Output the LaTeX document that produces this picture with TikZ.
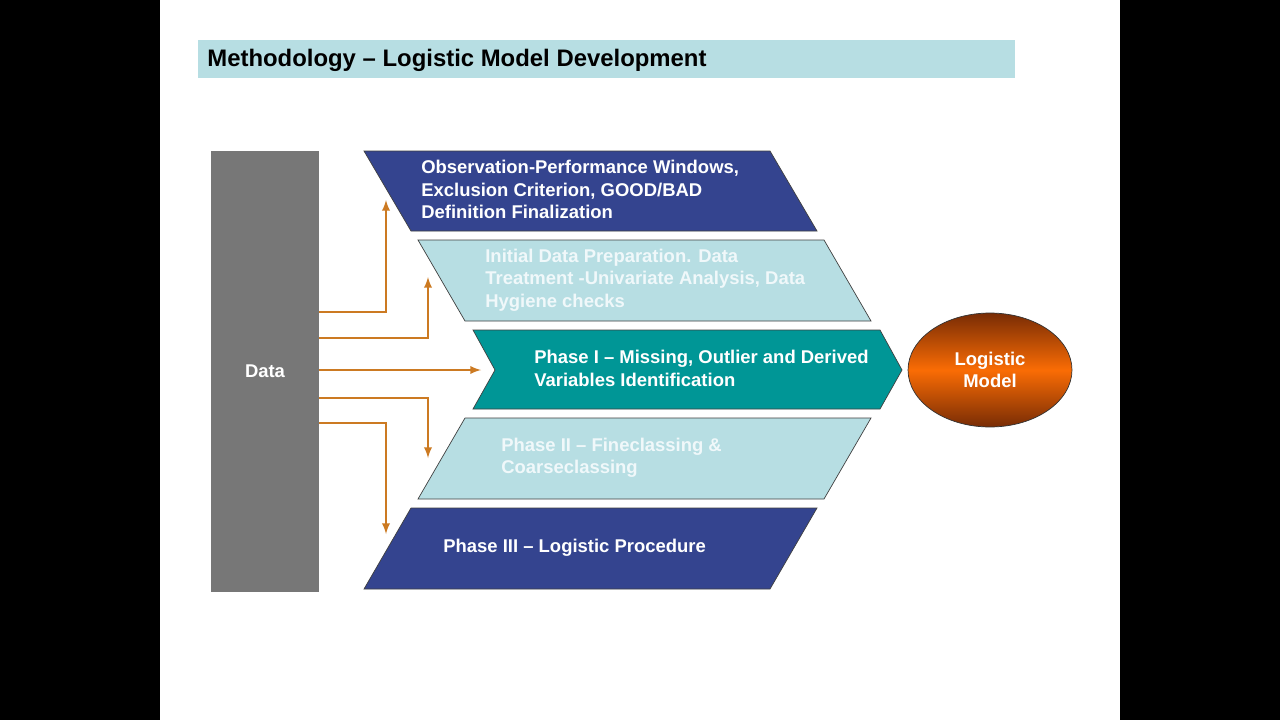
\documentclass[tikz,border=0pt]{standalone}
\usepackage{fontspec}
\setmainfont{Liberation Sans}
\usetikzlibrary{shapes.geometric}
\definecolor{titlebg}{RGB}{183,222,227}
\definecolor{navy}{RGB}{52,68,143}
\definecolor{pale}{RGB}{183,222,227}
\definecolor{tealc}{RGB}{0,150,150}
\definecolor{grayc}{RGB}{119,119,119}
\definecolor{arrc}{RGB}{204,122,34}
\definecolor{paletext}{RGB}{240,248,250}
\definecolor{darkor}{RGB}{120,44,5}
\definecolor{brightor}{RGB}{250,108,5}
\begin{document}
\begin{tikzpicture}[x=0.02cm,y=-0.02cm,
  bf/.style={font=\bfseries\fontsize{10.5}{12.8}\selectfont},
  txt/.style={bf,text=white,align=left,inner sep=0pt,anchor=west},
  arr/.style={->,>=latex,draw=arrc,line width=1.1pt},
  box/.style={draw=black!75,line width=0.4pt}]
\useasboundingbox (0,0) rectangle (1280,720);
\fill[black] (0,0) rectangle (160,720);
\fill[black] (1120,0) rectangle (1280,720);
\fill[white] (160,0) rectangle (1120,720);
%%%% title
\fill[titlebg] (198,40) rectangle (1015,78);
\node[font=\bfseries\fontsize{13.6}{16}\selectfont,inner sep=0pt,anchor=west] (title) at (207,60) {Methodology -- Logistic Model Development};
%%%% phases
\filldraw[box,fill=navy] (364,151) -- (770,151) -- (817,231) -- (411,231) -- cycle;
\filldraw[box,fill=pale] (418,240) -- (824,240) -- (871,321) -- (465,321) -- cycle;
\filldraw[box,fill=tealc] (473,330) -- (880,330) -- (902,370) -- (880,409) -- (473,409) -- (495,370) -- cycle;
\filldraw[box,fill=pale] (465,418) -- (871,418) -- (824,499) -- (418,499) -- cycle;
\filldraw[box,fill=navy] (411,508) -- (817,508) -- (770,589) -- (364,589) -- cycle;
%
\node[txt] (obs) at (421,189.5) {Observation-Performance Windows,\\Exclusion Criterion, GOOD/BAD\\Definition Finalization};
\node[txt,text=paletext] (prep) at (485,280) {Initial Data Preparation. Data\\Treatment -Univariate Analysis, Data\\Hygiene checks};
\node[txt] (ph1) at (534,368.5) {Phase I -- Missing, Outlier and Derived\\Variables Identification};
\node[txt,text=paletext] (ph2) at (501,458) {Phase II -- Fineclassing \&\\Coarseclassing};
\node[txt] (ph3) at (443,548) {Phase III -- Logistic Procedure};
%%%% data and model
\node[bf,text=white,fill=grayc,minimum width=2.16cm,minimum height=8.82cm] (data) at (265,371.5) {Data};
\node[bf,text=white,align=center,ellipse,draw=black!80,minimum width=3.28cm,minimum height=2.28cm,
  top color=darkor,bottom color=darkor,middle color=brightor] (model) at (990,370) {Logistic\\Model};
%%%% arrows
\coordinate (e1) at (386,200);
\coordinate (e2) at (428,277);
\coordinate (e3) at (481,370);
\coordinate (e4) at (428,458);
\coordinate (e5) at (386,534);
\draw[arr] (data.east |- 0,312) -| (e1);
\draw[arr] (data.east |- 0,338) -| (e2);
\draw[arr] (data.east |- 0,370) -- (e3);
\draw[arr] (data.east |- 0,398) -| (e4);
\draw[arr] (data.east |- 0,423) -| (e5);
\end{tikzpicture}
\end{document}
